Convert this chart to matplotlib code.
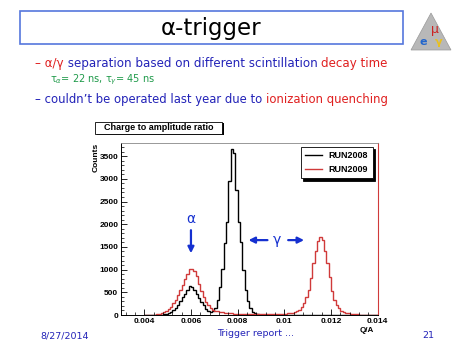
import numpy as np
import matplotlib
matplotlib.use('Agg')
from matplotlib import pyplot as plt
from matplotlib.patches import Rectangle, Polygon

# histogram bins: 0.0040 .. 0.0140, width 0.0001
bin_start = 0.004
bin_width = 0.0001

# RUN2008 counts per bin, starting at 0.0040
run2008 = [0, 0, 0, 0, 0, 0, 3, 8, 15, 25,
           40, 65, 100, 150, 220, 300, 390, 470, 550, 640,
           620, 560, 470, 380, 290, 210, 140, 90, 70, 90,
           150, 320, 620, 1020, 1580, 2050, 2950, 3650, 3580, 2750,
           2050, 1600, 1000, 560, 300, 150, 70, 35, 15, 5,
           0, 0, 0, 0, 0, 0, 0, 0, 0, 0,
           0, 0, 0, 0, 0, 0, 0, 0, 0, 0,
           0, 0, 0, 0, 0, 0, 0, 0, 0, 0,
           0, 0, 0, 0, 0, 0, 0, 0, 0, 0,
           0, 0, 0, 0, 0, 0, 0, 0, 0, 0]

# RUN2009 counts per bin, starting at 0.0040
run2009 = [0, 0, 2, 5, 10, 15, 25, 40, 60, 90,
           130, 185, 255, 335, 430, 540, 660, 790, 910, 1020,
           1010, 960, 850, 680, 520, 390, 290, 210, 160, 120,
           95, 80, 68, 58, 50, 44, 40, 36, 32, 30,
           28, 26, 24, 22, 20, 19, 18, 17, 16, 15,
           15, 15, 15, 16, 17, 18, 20, 22, 25, 28,
           32, 37, 43, 52, 65, 80, 110, 170, 260, 400,
           550, 820, 1140, 1400, 1620, 1720, 1650, 1400, 1140, 840,
           520, 330, 220, 150, 95, 65, 45, 35, 28, 22,
           18, 14, 10, 7, 5, 3, 2, 1, 0, 0]

xticks = [0.004, 0.006, 0.008, 0.010, 0.012, 0.014]
xtick_labels = ['0.004', '0.006', '0.008', '0.01', '0.012', '0.014']
yticks = [0, 500, 1000, 1500, 2000, 2500, 3000, 3500]

W, H = 474, 355
BLUE = '#2323b8'
RED = '#e02020'
GREEN = '#1f9a4a'
HRED = '#d03a3a'
ABLUE = '#1530d0'


def fx(px):
    return px / W


def fy(py):
    return 1 - py / H


fig = plt.figure(figsize=(W / 100, H / 100), dpi=100)
fig.patch.set_facecolor('white')
renderer = fig.canvas.get_renderer()


def text_width(s, size, **kw):
    t = fig.text(0, 0, s + '|', fontsize=size, **kw)
    t2 = fig.text(0, 0, '|', fontsize=size, **kw)
    w = t.get_window_extent(renderer=renderer).width - t2.get_window_extent(renderer=renderer).width
    t.remove()
    t2.remove()
    return w


def colored_line(x, y, parts, size):
    for s, c in parts:
        fig.text(fx(x), fy(y), s, color=c, fontsize=size, ha='left', va='center')
        x += text_width(s, size)


# slide title box
fig.patches.append(Rectangle((fx(20), fy(44)), fx(403) - fx(20), fy(11) - fy(44),
                             transform=fig.transFigure, fill=False,
                             edgecolor='#5577dd', linewidth=1.2))
fig.text(fx(211), fy(28), '\u03b1-trigger', fontsize=16.5, ha='center', va='center')

# logo
fig.patches.append(Polygon([(fx(431), fy(13)), (fx(411), fy(50)), (fx(451), fy(50))],
                           closed=True, transform=fig.transFigure,
                           facecolor='#b8b8b8', edgecolor='#999999', linewidth=0.5))
fig.text(fx(435), fy(29), '\u03bc', color='#cc2222', fontsize=9, ha='center', va='center')
fig.text(fx(423), fy(42), 'e', color='#2266cc', fontsize=8, ha='center', va='center', fontweight='bold')
fig.text(fx(439), fy(42), '\u03b3', color='#e8c020', fontsize=8, ha='center', va='center', fontweight='bold')

# bullet lines
colored_line(35, 63, [('\u2013 \u03b1/\u03b3', RED), (' separation based on different scintillation ', BLUE),
                      ('decay time', RED)], 8.6)
colored_line(50, 80, [('\u03c4$_{\\alpha}$= 22 ns, \u03c4$_{\\gamma}$= 45 ns', GREEN)], 7)
colored_line(35, 99, [('\u2013 couldn\u2019t be operated last year due to ', BLUE),
                      ('ionization quenching', RED)], 8.4)

# footer
fig.text(fx(40), fy(336), '8/27/2014', color=BLUE, fontsize=6.8, ha='left', va='center')
fig.text(fx(256), fy(333), 'Trigger report ...', color=BLUE, fontsize=6.8, ha='center', va='center')
fig.text(fx(428), fy(336), '21', color=BLUE, fontsize=6.8, ha='center', va='center')

# histogram panel
ax = fig.add_axes([fx(121), fy(315), fx(377.5) - fx(121), fy(143) - fy(315)])
edges = bin_start + bin_width * np.arange(len(run2008) + 1)
ax.stairs(run2008, edges, color='black', linewidth=1.0, label='RUN2008')
ax.stairs(run2009, edges, color=HRED, linewidth=1.0, label='RUN2009')

ax.set_xlim(0.003, 0.014)
ax.set_ylim(0, 3790)
ax.set_xticks(xticks)
ax.set_xticklabels(xtick_labels)
ax.set_yticks(yticks)
ax.set_xticks(np.arange(0.0032, 0.0140, 0.0004), minor=True)
ax.set_yticks(np.arange(0, 3790, 100), minor=True)
ax.tick_params(axis='both', which='both', direction='in', top=False, right=False,
               labelsize=6, pad=2)
ax.tick_params(which='major', length=4, width=0.6)
ax.tick_params(which='minor', length=2, width=0.5)
for lab in ax.get_xticklabels() + ax.get_yticklabels():
    lab.set_fontweight('bold')
    lab.set_family('Liberation Sans')
ax.spines['left'].set_linewidth(0.7)
ax.spines['bottom'].set_linewidth(0.7)
ax.spines['top'].set_color('#888888')
ax.spines['top'].set_linewidth(0.6)
ax.spines['right'].set_color(HRED)
ax.spines['right'].set_linewidth(0.8)

fig.text(fx(96), fy(143), 'Counts', rotation=90, fontsize=6, fontweight='bold',
         family='Liberation Sans', ha='center', va='top')
fig.text(fx(374), fy(331), 'Q/A', fontsize=5.8, fontweight='bold',
         family='Liberation Sans', ha='right', va='center')

leg = ax.legend(loc='upper right', bbox_to_anchor=(0.982, 0.977), borderaxespad=0,
                prop={'family': 'Liberation Sans', 'weight': 'bold', 'size': 6.5},
                handlelength=1.8, fancybox=False, edgecolor='black', framealpha=1,
                shadow={'color': 'black', 'alpha': 1, 'ox': 1.5, 'oy': -1.5},
                borderpad=0.5, labelspacing=0.5)
leg.get_frame().set_linewidth(0.6)

# chart title box with shadow
fig.patches.append(Rectangle((fx(96.5), fy(135.5)), fx(223.5) - fx(96.5), fy(123.5) - fy(135.5),
                             transform=fig.transFigure, facecolor='black', edgecolor='none'))
fig.patches.append(Rectangle((fx(95), fy(134)), fx(222) - fx(95), fy(122) - fy(134),
                             transform=fig.transFigure, facecolor='white', edgecolor='black',
                             linewidth=0.6))
fig.text(fx(158.5), fy(128), 'Charge to amplitude ratio', fontsize=6.5, fontweight='bold',
         family='Liberation Sans', ha='center', va='center')

# alpha / gamma annotations
ax.annotate('', xy=(0.006, 1300), xytext=(0.006, 1930),
            arrowprops=dict(arrowstyle='-|>', color=ABLUE, lw=1.6, mutation_scale=9))
ax.text(0.006, 2120, '\u03b1', color=ABLUE, fontsize=10, ha='center', va='center')
ax.annotate('', xy=(0.00835, 1650), xytext=(0.00940, 1650),
            arrowprops=dict(arrowstyle='-|>', color=ABLUE, lw=1.6, mutation_scale=9))
ax.text(0.00968, 1650, '\u03b3', color=ABLUE, fontsize=10, ha='center', va='center')
ax.annotate('', xy=(0.01097, 1650), xytext=(0.01005, 1650),
            arrowprops=dict(arrowstyle='-|>', color=ABLUE, lw=1.6, mutation_scale=9))

fig.savefig('out.png', dpi=100)
